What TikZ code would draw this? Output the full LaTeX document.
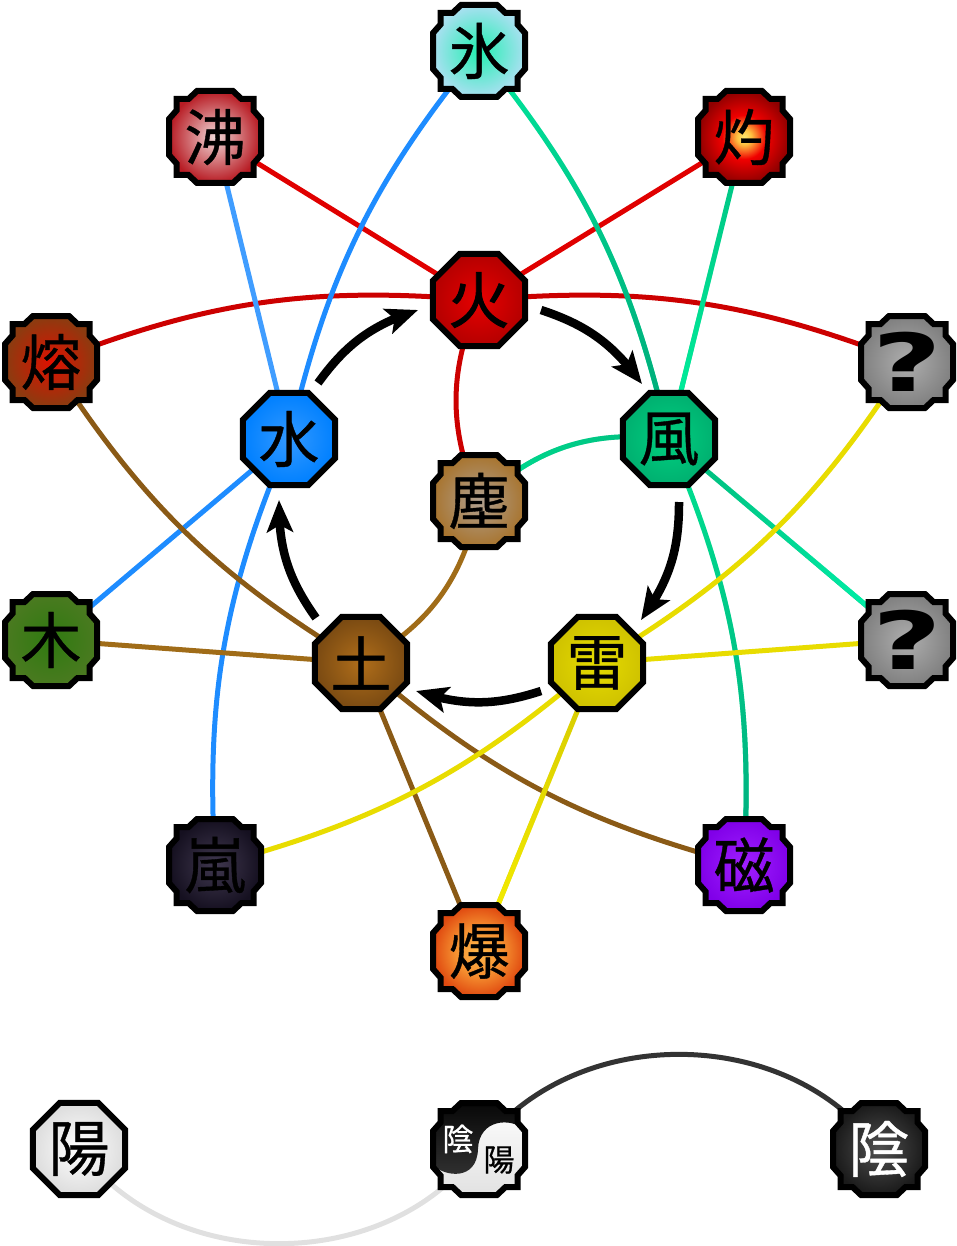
\documentclass[tikz,border=0pt]{standalone}
\usepackage{fontspec}
\usepackage{graphicx}
\setmainfont{Noto Sans CJK JP}[FakeBold=0.6]
\newfontfamily\heavyfont{Noto Sans CJK JP}[FakeBold=1.6]
\newfontfamily\qfont{DejaVu Sans}
\usetikzlibrary{arrows.meta,bending,shapes.geometric,fadings}
\pgfdeclarelayer{bg}\pgfsetlayers{bg,main}
\newcommand\mkshade[3]{\definecolor{#1a}{HTML}{#2}\definecolor{#1b}{HTML}{#3}%
  \pgfdeclareradialshading{#1}{\pgfpoint{0bp}{0bp}}{color(0bp)=(#1a);color(25bp)=(#1b);color(50bp)=(#1b)}}
\mkshade{sfire}{E80000}{B40000}
\mkshade{swater}{3399FF}{0080FF}
\mkshade{swind}{00D080}{00B070}
\mkshade{sthunder}{E6DC00}{CFC200}
\mkshade{searth}{B06E1A}{7A4A12}
\mkshade{sice}{20F0B0}{A8E0F0}
\mkshade{sboil}{F0D8D8}{B81C24}
\mkshade{smelt}{E01000}{8A3C10}
\mkshade{swood}{2F7A10}{4A7A20}
\mkshade{sunk}{AEAEAE}{808080}
\mkshade{sstorm}{40384F}{151020}
\mkshade{smag}{A020FF}{8000E8}
\mkshade{sdust}{B0A090}{A87530}
\mkshade{slight}{FFFFFF}{DDDDDD}
\mkshade{sdark}{505050}{1A1A1A}
\definecolor{blastA}{HTML}{FFB84A}\definecolor{blastB}{HTML}{F59030}\definecolor{blastC}{HTML}{E04A10}
\pgfdeclareradialshading{sblast}{\pgfpoint{0bp}{0bp}}{color(0bp)=(blastA);color(13bp)=(blastB);color(25bp)=(blastC);color(50bp)=(blastC)}
\definecolor{burnA}{HTML}{FFE870}\definecolor{burnB}{HTML}{FFC040}\definecolor{burnC}{HTML}{F00000}\definecolor{burnD}{HTML}{900000}
\pgfdeclareradialshading{sburn}{\pgfpoint{0bp}{0bp}}{color(0bp)=(burnA);color(4bp)=(burnB);color(12bp)=(burnC);color(25bp)=(burnD);color(50bp)=(burnD)}
\definecolor{lred}{HTML}{CC0000}
\definecolor{lredb}{HTML}{E00000}
\definecolor{lblue}{HTML}{1E8CFF}
\definecolor{lyellow}{HTML}{E8DC00}
\definecolor{lbrown}{HTML}{8A5A16}
\definecolor{lbrownb}{HTML}{A06C18}
\tikzset{
  x=1pt,y=1pt,
  glyph/.style={inner sep=0pt,outer sep=0pt,font=\fontsize{61}{61}\selectfont,text=black},
  prim/.style={glyph,draw=black,line width=6pt,regular polygon,regular polygon sides=8,
    minimum size=100pt,shading=#1},
  secbox/.style={draw=black,line width=6pt,miter limit=10,shading=#1},
  ln/.style={line width=5pt,draw=#1},
  ringarrow/.style={line width=8.5pt,-{Stealth[length=32pt,width=26pt,inset=7pt,flex=1]},draw=black}
}
% two-colour connector: #1 start colour, #2 end colour, #3 fade angle, #4 path
\newcommand\gline[4]{\definecolor{gA}{HTML}{#1}\definecolor{gB}{HTML}{#2}%
  \draw[ln=gA] #4;
  \draw[ln=gB,path fading=east,fading angle=#3,fit fading=true] #4;}
\newcommand\notchpath{(18,46)--(26.5,38)--(38.5,38)--(38.5,26.5)--(46,18)--(46,-18)--(38.5,-26.5)--(38.5,-38)--(26.5,-38)--(18,-46)--(-18,-46)--(-26.5,-38)--(-38.5,-38)--(-38.5,-26.5)--(-46,-18)--(-46,18)--(-38.5,26.5)--(-38.5,38)--(-26.5,38)--(-18,46)--cycle}
\newcommand\secnode[5]{\begin{scope}[shift={(#2,#3)}]
  \path[secbox=#4] \notchpath;
  \node[glyph] (#1) at (0,0) {#5};
\end{scope}}
\newcommand\qmark{\scalebox{1.5}[1]{\qfont\bfseries\fontsize{80}{80}\selectfont ?}}
\begin{document}
\begin{tikzpicture}
\useasboundingbox (0,0) rectangle (957,-1246);
% primary
\node[prim=sfire] (fire) at (479,-300) {\heavyfont 火};
\node[prim=swater] (water) at (289,-439) {水};
\node[prim=swind] (wind) at (669,-439) {風};
\node[prim=sthunder] (thunder) at (597,-663) {雷};
\node[prim=searth] (earth) at (361,-663) {土};
\node[prim=slight] (yang) at (79,-1149) {陽};
% secondary
\secnode{ice}{479}{-51}{sice}{氷}
\secnode{boil}{215}{-137}{sboil}{沸}
\secnode{burn}{744}{-137}{sburn}{灼}
\secnode{melt}{51}{-362}{smelt}{熔}
\secnode{unka}{907}{-362}{sunk}{\qmark}
\secnode{wood}{51}{-640}{swood}{木}
\secnode{unkb}{907}{-640}{sunk}{\qmark}
\secnode{storm}{215}{-865}{sstorm}{嵐}
\secnode{mag}{744}{-865}{smag}{磁}
\secnode{blast}{479}{-951}{sblast}{爆}
\secnode{dust}{479}{-501}{sdust}{塵}
% yin
\begin{scope}[shift={(879,-1149)}]
  \path[secbox=sdark] \notchpath;
  \node[glyph,text=white] (yin) at (0,0) {陰};
\end{scope}
% yin-yang
\begin{scope}[shift={(479,-1149)}]
  \begin{scope}
    \clip \notchpath;
    \shade[bottom color=black!12,top color=white] (-50,-50) rectangle (50,50);
    \shade[top color=black,bottom color=black!80] (-46,-16) .. controls (-34,-28) and (-2,-32) .. (-1,0)
      .. controls (0,30) and (32,32) .. (46,19) -- (60,19) -- (60,60) -- (-60,60) -- (-60,-16) -- cycle;
  \end{scope}
  \draw[black,line width=6pt] \notchpath;
  \node[inner sep=0pt,font=\fontsize{31}{31}\selectfont,text=white] at (-21,10) {陰};
  \node[inner sep=0pt,font=\fontsize{31}{31}\selectfont,text=black] at (20,-11) {陽};
  \coordinate (yy) at (0,0);
\end{scope}
% arrow ends
\coordinate (a1) at (318,-383); \coordinate (a2) at (418,-310);
\coordinate (b1) at (541,-310); \coordinate (b2) at (642,-384);
\coordinate (c1) at (679,-502); \coordinate (c2) at (641,-620);
\coordinate (d1) at (541,-691); \coordinate (d2) at (416,-691);
\coordinate (e1) at (316,-618); \coordinate (e2) at (279,-500);
\draw[ringarrow] (a1) to[bend left=18] (a2);
\draw[ringarrow] (b1) to[bend left=18] (b2);
\draw[ringarrow] (c1) to[bend left=18] (c2);
\draw[ringarrow] (d1) to[bend left=18] (d2);
\draw[ringarrow] (e1) to[bend left=18] (e2);
\begin{pgfonlayer}{bg}
\draw[ln=lred] (melt.center) to[bend left=13] (fire.center);
\draw[ln=lred] (fire.center) to[bend left=13] (unka.center);
\draw[ln=lredb] (boil.center) -- (fire.center);
\draw[ln=lredb] (burn.center) -- (fire.center);
\draw[ln=lred] (fire.center) to[bend right=23] (dust.center);
\draw[ln=lblue] (ice.center) to[bend right=13] (water.center);
\draw[ln=lblue!85!white] (boil.center) -- (water.center);
\draw[ln=lblue] (water.center) -- (wood.center);
\draw[ln=lblue] (water.center) to[bend right=13] (storm.center);
\gline{00E098}{00B07C}{116}{(ice.center) to[bend left=13] (wind.center)}
\gline{00C484}{00F09C}{76}{(burn.center) -- (wind.center)}
\gline{00C080}{00F0A8}{140}{(wind.center) -- (unkb.center)}
\gline{00E090}{00B080}{100}{(wind.center) to[bend left=13] (mag.center)}
\gline{00C080}{00DC90}{18}{(wind.center) to[bend right=25] (dust.center)}
\draw[ln=lbrown] (melt.center) to[bend right=13] (earth.center);
\draw[ln=lbrown] (earth.center) to[bend right=13] (mag.center);
\draw[ln=lbrownb] (earth.center) to[bend right=25] (dust.center);
\draw[ln=lbrownb] (earth.center) -- (wood.center);
\draw[ln=lbrown] (earth.center) -- (blast.center);
\draw[ln=lyellow] (thunder.center) to[bend right=13] (unka.center);
\draw[ln=lyellow] (thunder.center) to[bend left=13] (storm.center);
\draw[ln=lyellow] (thunder.center) -- (unkb.center);
\gline{D8CC00}{F4EC00}{68}{(thunder.center) -- (blast.center)}
\draw[ln=black!80] (yy) to[bend left=54] (yin.center);
\draw[ln=black!12] (yy) to[bend left=54] (yang.center);
\end{pgfonlayer}
\end{tikzpicture}
\end{document}
